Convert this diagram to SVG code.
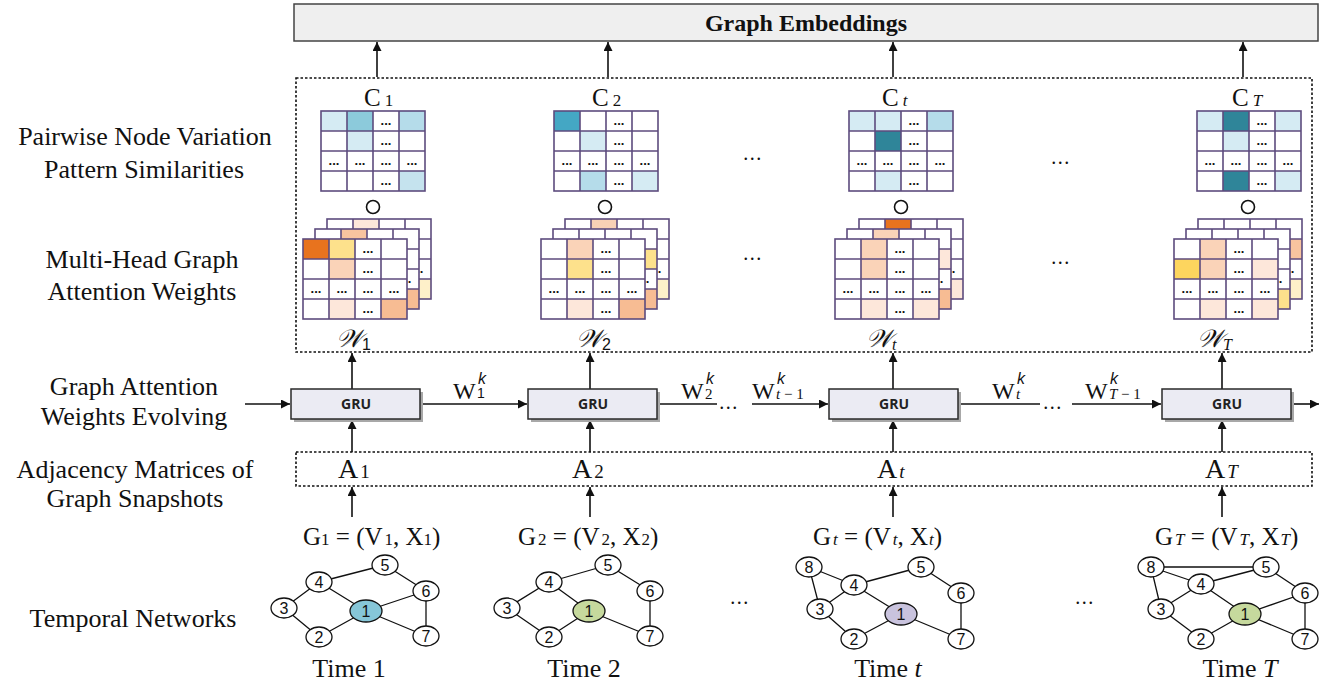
<svg xmlns="http://www.w3.org/2000/svg" xmlns:xlink="http://www.w3.org/1999/xlink" width="1335" height="700" viewBox="0 0 1335 700">
<style>
.lbl{font-family:"Liberation Serif","Times New Roman",serif;font-size:26px;fill:#111;text-anchor:middle}
.ser{font-family:"Liberation Serif","Times New Roman",serif;fill:#111}
.sans{font-family:"Liberation Sans",Arial,sans-serif;fill:#111}
.it{font-style:italic}
.dash{fill:none;stroke:#111;stroke-width:1.6;stroke-dasharray:2.5 2}
.ar{stroke:#111;stroke-width:1.6;fill:none}
.arm{stroke:#111;stroke-width:1.6;fill:none;marker-end:url(#ah)}
.gru{fill:#ebebf3;stroke:#2a2a2a;stroke-width:1.5}
.gsh{fill:#a8a8a8}
.grut{font-family:"Open Sans","Liberation Sans",sans-serif;font-weight:bold;font-size:14px;fill:#222;text-anchor:middle}
.gl{stroke:#5d4b7e;stroke-width:1.6;fill:none}
.dt{font-family:"Liberation Sans",Arial,sans-serif;font-weight:bold;font-size:13px;fill:#111;text-anchor:middle}
.edge{stroke:#111;stroke-width:1.3}
.nd{stroke:#111;stroke-width:1.3}
.nt{font-family:"Liberation Sans",Arial,sans-serif;font-size:16px;fill:#111;text-anchor:middle}
.ell{font-family:"Liberation Serif",serif;font-size:20px;fill:#111;text-anchor:middle;letter-spacing:1.5px}
</style>
<defs>
<marker id="ah" viewBox="0 0 10 10" refX="10" refY="5" markerWidth="11" markerHeight="9" markerUnits="userSpaceOnUse" orient="auto"><path d="M0,0 L10,5 L0,10 z" fill="#111"/></marker>
<g id="grid">
<rect x="0" y="0" width="104" height="80" class="gl"/>
<path class="gl" d="M26,0V80M52,0V80M78,0V80M0,20H104M0,40H104M0,60H104"/>
<text class="dt" x="65" y="14">...</text>
<text class="dt" x="65" y="34">...</text>
<text class="dt" x="13" y="54">...</text>
<text class="dt" x="39" y="54">...</text>
<text class="dt" x="65" y="54">...</text>
<text class="dt" x="91" y="54">...</text>
<text class="dt" x="65" y="74">...</text>
</g>
<rect id="bg" x="0" y="0" width="104" height="80" fill="#fff"/>
</defs>

<!-- left labels -->
<g id="labels">
<text class="lbl" x="145" y="145">Pairwise Node Variation</text>
<text class="lbl" x="144" y="178">Pattern Similarities</text>
<text class="lbl" x="142" y="268">Multi-Head Graph</text>
<text class="lbl" x="142" y="300">Attention Weights</text>
<text class="lbl" x="134" y="395">Graph Attention</text>
<text class="lbl" x="134" y="425">Weights Evolving</text>
<text class="lbl" x="135" y="478">Adjacency Matrices of</text>
<text class="lbl" x="135" y="507">Graph Snapshots</text>
<text class="lbl" x="133" y="627">Temporal Networks</text>
</g>

<!-- banner -->
<g id="banner">
<rect x="294" y="4" width="1024" height="37" fill="#efefef" stroke="#444" stroke-width="1.5"/>
<text class="ser" x="806" y="31" font-size="24" font-weight="bold" text-anchor="middle">Graph Embeddings</text>
</g>

<!-- dotted boxes -->
<rect class="dash" x="296" y="78" width="1016" height="274"/>
<rect class="dash" x="296" y="452" width="1016" height="34"/>

<!-- connectors -->
<g id="connectors">
<line class="arm" x1="377" y1="77" x2="377" y2="42"/>
<line class="arm" x1="608" y1="77" x2="608" y2="42"/>
<line class="arm" x1="893" y1="77" x2="893" y2="42"/>
<line class="arm" x1="1243" y1="77" x2="1243" y2="42"/>

<line class="arm" x1="352" y1="389" x2="352" y2="353"/>
<line class="arm" x1="590" y1="389" x2="590" y2="353"/>
<line class="arm" x1="893" y1="389" x2="893" y2="353"/>
<line class="arm" x1="1222" y1="389" x2="1222" y2="353"/>

<line class="arm" x1="352" y1="452" x2="352" y2="420"/>
<line class="arm" x1="590" y1="452" x2="590" y2="420"/>
<line class="arm" x1="893" y1="452" x2="893" y2="420"/>
<line class="arm" x1="1222" y1="452" x2="1222" y2="420"/>

<line class="arm" x1="352" y1="517" x2="352" y2="487"/>
<line class="arm" x1="590" y1="517" x2="590" y2="487"/>
<line class="arm" x1="893" y1="517" x2="893" y2="487"/>
<line class="arm" x1="1222" y1="517" x2="1222" y2="487"/>

<line class="arm" x1="245" y1="404" x2="290" y2="404"/>
<line class="arm" x1="420" y1="404" x2="527" y2="404"/>
<line class="ar" x1="657" y1="404" x2="717" y2="404"/>
<line class="arm" x1="752" y1="404" x2="828" y2="404"/>
<line class="ar" x1="958" y1="404" x2="1040" y2="404"/>
<line class="arm" x1="1072" y1="404" x2="1161" y2="404"/>
<line class="arm" x1="1291" y1="404" x2="1319" y2="404"/>
</g>

<!-- recurrence labels -->
<g id="wlabels">
<text class="ser" x="453" y="399" font-size="24">W</text>
<text class="sans it" x="478" y="384" font-size="16">k</text>
<text class="sans" x="477" y="398" font-size="14">1</text>
<text class="ser" x="681" y="399" font-size="24">W</text>
<text class="sans it" x="706" y="384" font-size="16">k</text>
<text class="ser" x="705" y="399" font-size="15">2</text>
<text class="ell" x="729" y="409">...</text>
<text class="ser" x="752" y="399" font-size="24">W</text>
<text class="sans it" x="777" y="384" font-size="16">k</text>
<text class="ser" x="776" y="399" font-size="15"><tspan class="it">t</tspan> − 1</text>
<text class="ser" x="992" y="399" font-size="24">W</text>
<text class="sans it" x="1017" y="384" font-size="16">k</text>
<text class="ser it" x="1016" y="399" font-size="15">t</text>
<text class="ell" x="1053" y="409">...</text>
<text class="ser" x="1085" y="399" font-size="24">W</text>
<text class="sans it" x="1110" y="384" font-size="16">k</text>
<text class="ser" x="1109" y="399" font-size="15"><tspan class="it">T</tspan> − 1</text>
</g>

<!-- GRU nodes -->
<g id="gru1"><rect class="gsh" x="294" y="392" width="129" height="30"/><rect class="gru" x="291" y="389" width="129" height="30"/><text class="grut" x="356" y="409">GRU</text></g>
<g id="gru2"><rect class="gsh" x="531" y="392" width="129" height="30"/><rect class="gru" x="528" y="389" width="129" height="30"/><text class="grut" x="593" y="409">GRU</text></g>
<g id="grut"><rect class="gsh" x="832" y="392" width="129" height="30"/><rect class="gru" x="829" y="389" width="129" height="30"/><text class="grut" x="894" y="409">GRU</text></g>
<g id="gruT"><rect class="gsh" x="1165" y="392" width="129" height="30"/><rect class="gru" x="1162" y="389" width="129" height="30"/><text class="grut" x="1227" y="409">GRU</text></g>

<!-- column 1 -->
<g id="col1">
<text class="ser" x="364" y="106" font-size="25">C<tspan font-size="17" dx="4">1</tspan></text>
<g transform="translate(321,111)"><use href="#bg"/>
<rect x="0" y="0" width="26" height="20" fill="#d5ebf3"/><rect x="26" y="0" width="26" height="20" fill="#8ccadb"/><rect x="78" y="0" width="26" height="20" fill="#b5dcea"/><rect x="26" y="20" width="26" height="20" fill="#d5ebf3"/><rect x="78" y="60" width="26" height="20" fill="#c5e3ee"/>
<use href="#grid"/></g>
<circle cx="373" cy="207" r="6.5" fill="#fff" stroke="#111" stroke-width="1.6"/>
<g transform="translate(327,219)"><use href="#bg"/><rect x="26" y="0" width="26" height="20" fill="#fde7da"/><rect x="78" y="60" width="26" height="20" fill="#fef0c9"/><use href="#grid"/></g>
<g transform="translate(315,229)"><use href="#bg"/><rect x="26" y="0" width="26" height="20" fill="#f8c49f"/><rect x="78" y="60" width="26" height="20" fill="#f7bc93"/><use href="#grid"/></g>
<g transform="translate(303,239)"><use href="#bg"/>
<rect x="0" y="0" width="26" height="20" fill="#e8731e"/><rect x="26" y="0" width="26" height="20" fill="#fde18c"/><rect x="26" y="20" width="26" height="20" fill="#fad3b8"/><rect x="26" y="60" width="26" height="20" fill="#fde7da"/><rect x="78" y="60" width="26" height="20" fill="#f7bc93"/>
<use href="#grid"/></g>
<text class="ser" x="336" y="347" font-size="25"><tspan class="it">𝒲</tspan><tspan class="sans" font-size="16" dy="3">1</tspan></text>
</g>

<!-- column 2 -->
<g id="col2">
<text class="ser" x="592" y="106" font-size="25">C<tspan font-size="17" dx="4">2</tspan></text>
<g transform="translate(554,111)"><use href="#bg"/>
<rect x="0" y="0" width="26" height="20" fill="#44a7c4"/><rect x="26" y="20" width="26" height="20" fill="#d5ebf3"/><rect x="26" y="60" width="26" height="20" fill="#b5dcea"/><rect x="78" y="60" width="26" height="20" fill="#d5ebf3"/>
<use href="#grid"/></g>
<circle cx="605" cy="207" r="6.5" fill="#fff" stroke="#111" stroke-width="1.6"/>
<g transform="translate(565,219)"><use href="#bg"/><rect x="26" y="0" width="26" height="20" fill="#f8d0b5"/><rect x="78" y="60" width="26" height="20" fill="#fef0c9"/><use href="#grid"/></g>
<g transform="translate(553,229)"><use href="#bg"/><rect x="78" y="20" width="26" height="20" fill="#fde18c"/><rect x="78" y="60" width="26" height="20" fill="#f7bc93"/><use href="#grid"/></g>
<g transform="translate(541,239)"><use href="#bg"/>
<rect x="26" y="0" width="26" height="20" fill="#fad3b8"/><rect x="26" y="20" width="26" height="20" fill="#fde18c"/><rect x="26" y="60" width="26" height="20" fill="#fde7da"/><rect x="78" y="60" width="26" height="20" fill="#f7bc93"/>
<use href="#grid"/></g>
<text class="ser" x="576" y="347" font-size="25"><tspan class="it">𝒲</tspan><tspan class="sans" font-size="16" dy="3">2</tspan></text>
</g>

<!-- column t -->
<g id="colt">
<text class="ser" x="882" y="106" font-size="25">C<tspan class="it" font-size="17" dx="4">t</tspan></text>
<g transform="translate(849,111)"><use href="#bg"/>
<rect x="0" y="0" width="26" height="20" fill="#d5ebf3"/><rect x="26" y="0" width="26" height="20" fill="#d5ebf3"/><rect x="78" y="0" width="26" height="20" fill="#b5dcea"/><rect x="26" y="20" width="26" height="20" fill="#2f8599"/><rect x="26" y="60" width="26" height="20" fill="#d5ebf3"/>
<use href="#grid"/></g>
<circle cx="901" cy="207" r="6.5" fill="#fff" stroke="#111" stroke-width="1.6"/>
<g transform="translate(859,219)"><use href="#bg"/><rect x="26" y="0" width="26" height="20" fill="#e8731e"/><rect x="78" y="60" width="26" height="20" fill="#fde7da"/><use href="#grid"/></g>
<g transform="translate(847,229)"><use href="#bg"/><rect x="26" y="0" width="26" height="20" fill="#fad3b8"/><rect x="78" y="20" width="26" height="20" fill="#fde7da"/><rect x="78" y="60" width="26" height="20" fill="#f7bc93"/><use href="#grid"/></g>
<g transform="translate(835,239)"><use href="#bg"/>
<rect x="26" y="0" width="26" height="20" fill="#fad3b8"/><rect x="26" y="20" width="26" height="20" fill="#fad3b8"/><rect x="26" y="60" width="26" height="20" fill="#fde7da"/><rect x="78" y="60" width="26" height="20" fill="#fde7da"/>
<use href="#grid"/></g>
<text class="ser" x="866" y="347" font-size="25"><tspan class="it">𝒲</tspan><tspan class="it" font-size="16" dy="3">t</tspan></text>
</g>

<!-- column T -->
<g id="colT">
<text class="ser" x="1232" y="106" font-size="25">C<tspan class="it" font-size="17" dx="4">T</tspan></text>
<g transform="translate(1197,111)"><use href="#bg"/>
<rect x="0" y="0" width="26" height="20" fill="#d5ebf3"/><rect x="26" y="0" width="26" height="20" fill="#2f8599"/><rect x="78" y="0" width="26" height="20" fill="#d5ebf3"/><rect x="26" y="20" width="26" height="20" fill="#d5ebf3"/><rect x="26" y="60" width="26" height="20" fill="#2f8599"/><rect x="78" y="60" width="26" height="20" fill="#d5ebf3"/>
<use href="#grid"/></g>
<circle cx="1248" cy="207" r="6.5" fill="#fff" stroke="#111" stroke-width="1.6"/>
<g transform="translate(1198,219)"><use href="#bg"/><rect x="78" y="20" width="26" height="20" fill="#f8c49f"/><rect x="78" y="60" width="26" height="20" fill="#fef0c9"/><use href="#grid"/></g>
<g transform="translate(1186,229)"><use href="#bg"/><rect x="78" y="60" width="26" height="20" fill="#fde18c"/><use href="#grid"/></g>
<g transform="translate(1174,239)"><use href="#bg"/>
<rect x="26" y="0" width="26" height="20" fill="#fad3b8"/><rect x="0" y="20" width="26" height="20" fill="#fdd55e"/><rect x="26" y="20" width="26" height="20" fill="#fad3b8"/><rect x="78" y="20" width="26" height="20" fill="#fde7da"/><rect x="26" y="60" width="26" height="20" fill="#fde7da"/><rect x="78" y="60" width="26" height="20" fill="#fde7da"/>
<use href="#grid"/></g>
<text class="ser" x="1197" y="347" font-size="25"><tspan class="it">𝒲</tspan><tspan class="it" font-size="16" dy="3">T</tspan></text>
</g>

<!-- ellipses between columns -->
<text class="ell" x="753" y="160">...</text>
<text class="ell" x="753" y="260">...</text>
<text class="ell" x="1061" y="164">...</text>
<text class="ell" x="1061" y="264">...</text>

<!-- A labels -->
<g id="A">
<text class="ser" x="338" y="478" font-size="28">A<tspan font-size="19" dx="2">1</tspan></text>
<text class="ser" x="572" y="478" font-size="28">A<tspan font-size="19" dx="2">2</tspan></text>
<text class="ser" x="877" y="478" font-size="28">A<tspan class="it" font-size="19" dx="2">t</tspan></text>
<text class="ser" x="1205" y="478" font-size="28">A<tspan class="it" font-size="19" dx="2">T</tspan></text>
</g>

<!-- G labels -->
<g id="G">
<text class="ser" x="303" y="545" font-size="25">G<tspan font-size="17">1</tspan> = (V<tspan font-size="17" dx="2">1</tspan>, X<tspan font-size="17">1</tspan>)</text>
<text class="ser" x="518" y="545" font-size="25">G<tspan font-size="17" dx="2">2</tspan> = (V<tspan font-size="17" dx="2">2</tspan>, X<tspan font-size="17" dx="1">2</tspan>)</text>
<text class="ser" x="813" y="545" font-size="25">G<tspan class="it" font-size="17" dx="2">t</tspan> = (V<tspan class="it" font-size="17" dx="2">t</tspan>, X<tspan class="it" font-size="17" dx="1">t</tspan>)</text>
<text class="ser" x="1155" y="545" font-size="25">G<tspan class="it" font-size="17" dx="2">T</tspan> = (V<tspan class="it" font-size="17" dx="2">T</tspan>, X<tspan class="it" font-size="17" dx="1">T</tspan>)</text>
</g>

<!-- Network 1 -->
<g id="net1">
<path class="edge" d="M319,582L385,565M319,582L284,608M319,582L366,611M284,608L319,637M319,637L366,611M366,611L426,591M366,611L426,636M426,591L426,636M385,565L426,591"/>
<ellipse class="nd" style="fill:#fff" cx="385" cy="565" rx="13" ry="10"/><text class="nt" x="385" y="571">5</text>
<ellipse class="nd" style="fill:#fff" cx="319" cy="582" rx="13" ry="10"/><text class="nt" x="319" y="588">4</text>
<ellipse class="nd" style="fill:#fff" cx="426" cy="591" rx="13" ry="10"/><text class="nt" x="426" y="597">6</text>
<ellipse class="nd" style="fill:#fff" cx="284" cy="608" rx="13" ry="10"/><text class="nt" x="284" y="614">3</text>
<ellipse class="nd" style="fill:#86c6d8" cx="366" cy="611" rx="16" ry="11"/><text class="nt" x="366" y="617">1</text>
<ellipse class="nd" style="fill:#fff" cx="319" cy="637" rx="13" ry="10"/><text class="nt" x="319" y="643">2</text>
<ellipse class="nd" style="fill:#fff" cx="426" cy="636" rx="13" ry="10"/><text class="nt" x="426" y="642">7</text>
<text class="ser" x="349" y="677" font-size="26" text-anchor="middle">Time 1</text>
</g>

<!-- Network 2 -->
<g id="net2">
<path class="edge" d="M549,582L608,565M549,582L507,608M549,582L589,611M507,608L549,637M549,637L589,611M589,611L650,636M650,591L650,636M608,565L650,591"/>
<ellipse class="nd" style="fill:#fff" cx="608" cy="565" rx="13" ry="10"/><text class="nt" x="608" y="571">5</text>
<ellipse class="nd" style="fill:#fff" cx="549" cy="582" rx="13" ry="10"/><text class="nt" x="549" y="588">4</text>
<ellipse class="nd" style="fill:#fff" cx="650" cy="591" rx="13" ry="10"/><text class="nt" x="650" y="597">6</text>
<ellipse class="nd" style="fill:#fff" cx="507" cy="608" rx="13" ry="10"/><text class="nt" x="507" y="614">3</text>
<ellipse class="nd" style="fill:#c6d99d" cx="589" cy="611" rx="16" ry="11"/><text class="nt" x="589" y="617">1</text>
<ellipse class="nd" style="fill:#fff" cx="549" cy="637" rx="13" ry="10"/><text class="nt" x="549" y="643">2</text>
<ellipse class="nd" style="fill:#fff" cx="650" cy="636" rx="13" ry="10"/><text class="nt" x="650" y="642">7</text>
<text class="ser" x="584" y="677" font-size="26" text-anchor="middle">Time 2</text>
</g>

<text class="ell" x="740" y="604">...</text>

<!-- Network t -->
<g id="nett">
<path class="edge" d="M809,567L854,585M809,567L820,609M820,609L854,585M854,585L921,567M854,585L901,614M820,609L854,639M854,639L901,614M901,614L961,639M961,593L961,639M921,567L961,593"/>
<ellipse class="nd" style="fill:#fff" cx="809" cy="567" rx="13" ry="10"/><text class="nt" x="809" y="573">8</text>
<ellipse class="nd" style="fill:#fff" cx="921" cy="567" rx="13" ry="10"/><text class="nt" x="921" y="573">5</text>
<ellipse class="nd" style="fill:#fff" cx="854" cy="585" rx="13" ry="10"/><text class="nt" x="854" y="591">4</text>
<ellipse class="nd" style="fill:#fff" cx="961" cy="593" rx="13" ry="10"/><text class="nt" x="961" y="599">6</text>
<ellipse class="nd" style="fill:#fff" cx="820" cy="609" rx="13" ry="10"/><text class="nt" x="820" y="615">3</text>
<ellipse class="nd" style="fill:#c9c3de" cx="901" cy="614" rx="16" ry="11"/><text class="nt" x="901" y="620">1</text>
<ellipse class="nd" style="fill:#fff" cx="854" cy="639" rx="13" ry="10"/><text class="nt" x="854" y="645">2</text>
<ellipse class="nd" style="fill:#fff" cx="961" cy="639" rx="13" ry="10"/><text class="nt" x="961" y="645">7</text>
<text class="ser" x="888" y="677" font-size="26" text-anchor="middle">Time <tspan class="it">t</tspan></text>
</g>

<text class="ell" x="1085" y="604">...</text>

<!-- Network T -->
<g id="netT">
<path class="edge" d="M1151,567L1266,567M1151,567L1201,584M1151,567L1161,609M1161,609L1201,584M1201,584L1266,567M1201,584L1245,614M1161,609L1201,639M1201,639L1245,614M1245,614L1305,593M1245,614L1305,639M1305,593L1305,639M1266,567L1305,593"/>
<ellipse class="nd" style="fill:#fff" cx="1151" cy="567" rx="13" ry="10"/><text class="nt" x="1151" y="573">8</text>
<ellipse class="nd" style="fill:#fff" cx="1266" cy="567" rx="13" ry="10"/><text class="nt" x="1266" y="573">5</text>
<ellipse class="nd" style="fill:#fff" cx="1201" cy="584" rx="13" ry="10"/><text class="nt" x="1201" y="590">4</text>
<ellipse class="nd" style="fill:#fff" cx="1305" cy="593" rx="13" ry="10"/><text class="nt" x="1305" y="599">6</text>
<ellipse class="nd" style="fill:#fff" cx="1161" cy="609" rx="13" ry="10"/><text class="nt" x="1161" y="615">3</text>
<ellipse class="nd" style="fill:#c6d99d" cx="1245" cy="614" rx="16" ry="11"/><text class="nt" x="1245" y="620">1</text>
<ellipse class="nd" style="fill:#fff" cx="1201" cy="639" rx="13" ry="10"/><text class="nt" x="1201" y="645">2</text>
<ellipse class="nd" style="fill:#fff" cx="1305" cy="639" rx="13" ry="10"/><text class="nt" x="1305" y="645">7</text>
<text class="ser" x="1240" y="677" font-size="26" text-anchor="middle">Time <tspan class="it">T</tspan></text>
</g>
</svg>
